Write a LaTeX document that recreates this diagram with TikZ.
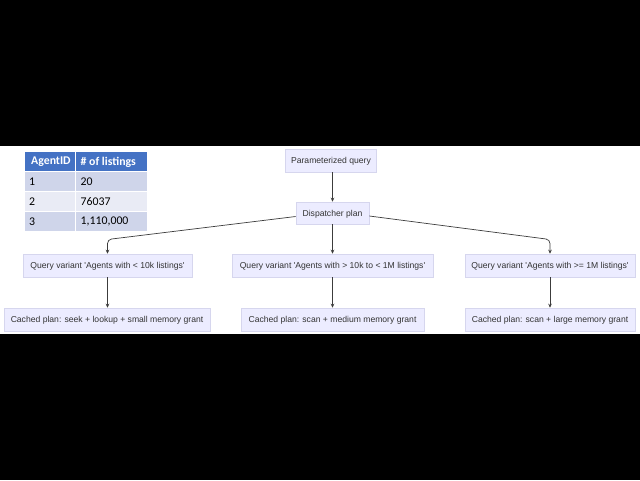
\documentclass[tikz,border=0pt]{standalone}
\usepackage{fontspec}
\setmainfont{Liberation Sans}
\newfontfamily\tabfont{Carlito}
\usetikzlibrary{arrows.meta}
\definecolor{boxfill}{RGB}{236,236,255}
\definecolor{boxline}{RGB}{214,214,238}
\definecolor{txt}{RGB}{51,51,51}
\definecolor{edgecol}{RGB}{60,60,60}
\definecolor{hdr}{RGB}{68,114,196}
\definecolor{rowa}{RGB}{207,213,234}
\definecolor{rowb}{RGB}{233,235,245}
\newcommand{\sq}{\textquotesingle}
\tikzset{
  box/.style={draw=boxline, fill=boxfill, line width=0.6pt, inner sep=0pt,
    minimum height=23pt, text=txt, text height=7.4pt, text depth=0.6pt,
    font=\fontsize{8.6}{10}\selectfont},
  edge/.style={draw=edgecol, line width=0.7pt, -{Stealth[length=4pt,width=3.6pt]}},
  cell/.style={anchor=west, inner sep=0pt, font=\tabfont\fontsize{11.8}{13}\selectfont, text=black},
  hcell/.style={cell, font=\tabfont\bfseries\fontsize{11.8}{13}\selectfont, text=white}
}
\begin{document}
\begin{tikzpicture}[x=1pt,y=-1pt]
\useasboundingbox (0,0) rectangle (640,480);
\fill[black] (0,0) rectangle (640,480);
\fill[white] (0,146) rectangle (640,334);

% table
\fill[hdr] (25,152) rectangle (147,171.5);
\fill[rowa] (25,171.5) rectangle (147,191.5);
\fill[rowb] (25,191.5) rectangle (147,211.5);
\fill[rowa] (25,211.5) rectangle (147,231);
\draw[white, line width=0.8pt] (75.5,152) -- (75.5,231);
\draw[white, line width=0.8pt] (25,171.5) -- (147,171.5) (25,191.5) -- (147,191.5) (25,211.5) -- (147,211.5);
\node[hcell] (h1) at (31,162) {AgentID};
\node[hcell] (h2) at (80.5,162) {\# of listings};
\node[cell] (a1) at (29,181.8) {1};
\node[cell] (b1) at (80.5,181.8) {20};
\node[cell] (a2) at (29,201.8) {2};
\node[cell] (b2) at (80.5,201.8) {76037};
\node[cell] (a3) at (29,221.6) {3};
\node[cell] (b3) at (80.5,221.6) {1,110,000};

% flow
\node[box, minimum width=91pt] (param) at (331,160.5) {Parameterized query};
\node[box, minimum width=73pt, minimum height=22pt] (disp) at (332.5,213) {Dispatcher plan};
\node[box, minimum width=169pt] (qv1) at (107.5,265.5) {Query variant \sq Agents with < 10k listings\sq};
\node[box, minimum width=201pt] (qv2) at (332.5,265.5) {Query variant \sq Agents with > 10k to < 1M listings\sq};
\node[box, minimum width=170pt] (qv3) at (550,265.5) {Query variant \sq Agents with >= 1M listings\sq};
\node[box, minimum width=206pt] (c1) at (107,319.5) {Cached plan: seek + lookup + small memory grant};
\node[box, minimum width=183pt] (c2) at (332.5,319.5) {Cached plan: scan + medium memory grant};
\node[box, minimum width=170pt] (c3) at (550,319.5) {Cached plan: scan + large memory grant};

\draw[edge] (param.south -| disp.north) -- (disp.north);
\draw[edge] (disp.south) -- (qv2.north);
\draw[edge, rounded corners=4pt] ([yshift=-3.5pt]disp.west) -- (qv1.north |- 0,239.5) -- (qv1.north);
\draw[edge, rounded corners=4pt] ([yshift=-3pt]disp.east) -- (qv3.north |- 0,239.5) -- (qv3.north);
\draw[edge] (qv1.south) -- (c1.north -| qv1.south);
\draw[edge] (qv2.south) -- (c2.north);
\draw[edge] (qv3.south) -- (c3.north);
\end{tikzpicture}
\end{document}
